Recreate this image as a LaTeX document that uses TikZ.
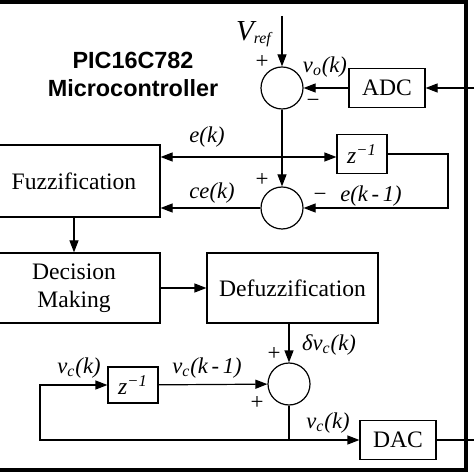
\documentclass[tikz,border=0pt]{standalone}
\usepackage{fontspec}
\setmainfont{Liberation Serif}
\newfontfamily\headfont{Liberation Sans}
\usepackage{tikz}
\usetikzlibrary{arrows.meta,positioning,calc}
\tikzset{
    block/.style={draw, line width=0.6pt, rectangle, align=center, font=\fontsize{11.8}{14}\selectfont, inner sep=0pt},
    sumnode/.style={draw, line width=0.6pt, circle, minimum size=21pt, inner sep=0pt},
    arrow/.style={-{Triangle[length=6pt, width=4.5pt]}, line width=0.6pt},
    wire/.style={line width=0.6pt},
    signal/.style={font=\fontsize{11.3}{13}\selectfont\itshape, inner sep=0pt},
    sign/.style={font=\fontsize{11.5}{12}\selectfont, inner sep=0pt},
    frame/.style={line width=2pt}
}

\begin{document}
\begin{tikzpicture}[x=0.5pt, y=-0.5pt]
  \fill[white] (0,0) rectangle (474,474);
  \clip (0,0) rectangle (474,474);

  % Outer frame of the microcontroller
  \draw[frame] (-20,2) -- (466,2) -- (466,470) -- (-20,470);
  \node[font=\headfont\bfseries\fontsize{11.7}{14}\selectfont, align=center] (title) at (133,74) {PIC16C782\\Microcontroller};

  % Processing blocks
  \node[block, minimum width=86pt, minimum height=36pt] (fuzz) at (74,181) {Fuzzification};
  \node[block, minimum width=86pt, minimum height=35pt] (dec) at (74,288) {Decision\\Making};
  \node[block, minimum width=85.5pt, minimum height=35pt] (defuzz) at (292.5,288) {Defuzzification};
  \node[block, minimum width=38pt, minimum height=19.5pt] (adc) at (387,88) {ADC};
  \node[block, minimum width=25pt, minimum height=19.5pt] (zone) at (362,154) {\textit{z}\textsuperscript{\textit{−1}}};
  \node[block, minimum width=25pt, minimum height=18pt] (ztwo) at (133,385) {\textit{z}\textsuperscript{\textit{−1}}};
  \node[block, minimum width=38pt, minimum height=19.5pt] (dac) at (398,440) {DAC};

  % Summing junctions
  \node[sumnode] (sumv) at (282,88) {};
  \node[sumnode] (sume) at (282,208) {};
  \node[sumnode] (sumu) at (289,384) {};

  % Branch points and free ends
  \coordinate (vref) at (282,16);
  \coordinate (adcin) at (474,88);
  \coordinate (ek) at (282,157);
  \coordinate (ekone) at (448,208);
  \coordinate (vcj) at (289,440);
  \coordinate (vcl) at (40,440);
  \coordinate (dacout) at (474,440);

  % Error path
  \draw[arrow] (vref) -- (sumv);
  \draw[arrow] (adcin) -- (adc);
  \draw[arrow] (adc) -- (sumv);
  \draw[arrow] (sumv) -- (sume);
  \draw[arrow] (ek) -- (ek -| fuzz.east);
  \draw[arrow] (ek) -- (ek -| zone.west);
  \draw[arrow] (zone.east) -| (ekone) -- (sume);
  \draw[arrow] (sume) -- (sume -| fuzz.east);

  % Fuzzy controller
  \draw[arrow] (fuzz) -- (dec);
  \draw[arrow] (dec) -- (defuzz);
  \draw[arrow] (defuzz.south -| sumu) -- (sumu);

  % Output integration
  \draw[arrow] (ztwo) -- (sumu);
  \draw[wire] (sumu) -- (vcj);
  \draw[arrow] (vcj) -- (vcl) |- (ztwo.west);
  \draw[arrow] (vcj) -- (dac);
  \draw[wire] (dac) -- (dacout);

  % Signal labels
  \node[signal] (lvref) at (254,34) {{\fontsize{14.5}{16}\selectfont V}\textsubscript{ref}};
  \node[sign] (pvref) at (262,62) {+};
  \node[signal] (lvo) at (325,67) {v\textsubscript{o}(k)};
  \node[sign] (mvo) at (313,103) {−};
  \node[signal] (lek) at (207,137) {e(k)};
  \node[sign] (pek) at (262,180) {+};
  \node[sign] (mek) at (320,197) {−};
  \node[signal] (lekone) at (371,196) {e(k\,-\,1)};
  \node[signal] (lcek) at (212,193) {ce(k)};
  \node[signal] (ldvc) at (329,345) {δv\textsubscript{c}(k)};
  \node[sign] (pdvc) at (274,354) {+};
  \node[sign] (pvcone) at (257,403) {+};
  \node[signal] (lvcone) at (207,368) {v\textsubscript{c}(k\,-\,1)};
  \node[signal] (lvcl) at (79,368) {v\textsubscript{c}(k)};
  \node[signal] (lvcr) at (328,423) {v\textsubscript{c}(k)};
\end{tikzpicture}
\end{document}
